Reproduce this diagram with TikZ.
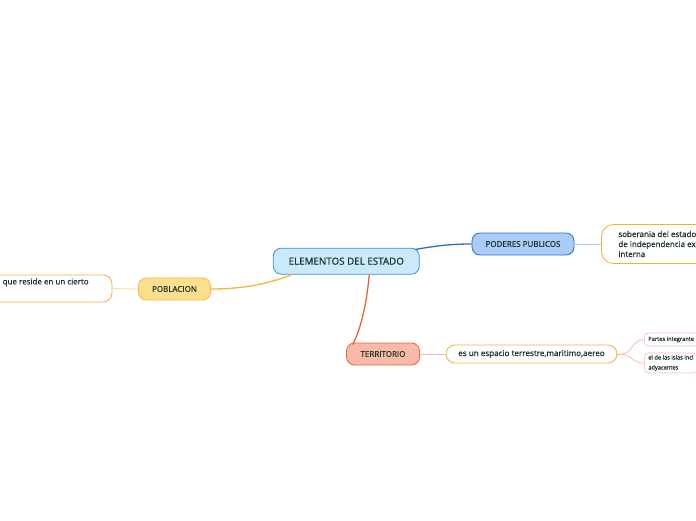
\documentclass[tikz,border=0pt]{standalone}
\usepackage{fontspec}
\setmainfont[FakeBold=0.6,AutoFakeBold=0.6]{Open Sans}
\definecolor{ink}{HTML}{1A302D}
\definecolor{estfill}{HTML}{C8EAFB}
\definecolor{estline}{HTML}{3A8FD8}
\definecolor{pobfill}{HTML}{FEDF8E}
\definecolor{pobline}{HTML}{F7B53A}
\definecolor{podfill}{HTML}{AACDF8}
\definecolor{podline}{HTML}{2C6CD0}
\definecolor{terfill}{HTML}{F9BBA7}
\definecolor{terline}{HTML}{EA6238}
\definecolor{leafor}{HTML}{F7AF35}
\definecolor{twigred}{HTML}{F9BFAE}
\begin{document}
\begin{tikzpicture}[x=1pt,y=-1pt]\tikzstyle{every node}=[font=\fontsize{8}{10}\selectfont, text=ink]
\tikzstyle{topic}=[draw, rounded corners=8pt, line width=0.8pt, minimum height=22pt, inner sep=0pt]
\tikzstyle{leaf}=[draw=leafor, fill=white, rounded corners=9pt, line width=0.8pt, inner sep=0pt]
\tikzstyle{twig}=[draw=twigred, fill=white, rounded corners=4pt, line width=0.6pt, font=\fontsize{5.7}{10}\selectfont, align=left, inner xsep=4pt, inner ysep=0pt, anchor=west]
\tikzstyle{branch}=[line width=1.3pt]
\useasboundingbox (0,0) rectangle (696,520);
\clip (0,0) rectangle (696,520);
%%%%%%%%%%%%%
\node[topic, draw=estline, fill=estfill, minimum width=146pt, minimum height=26pt, font=\fontsize{9.8}{12}\selectfont] (estado) at (346.3,261.2) {ELEMENTOS DEL ESTADO};
\node[topic, draw=pobline, fill=pobfill, minimum width=72pt] (poblacion) at (174.5,289) {POBLACION};
\node[topic, draw=podline, fill=podfill, minimum width=102pt] (poderes) at (523,244) {PODERES PUBLICOS};
\node[topic, draw=terline, fill=terfill, minimum width=73pt] (territorio) at (383,354) {TERRITORIO};
%%%%%%%%%%%%%
\node[leaf, minimum width=127pt, minimum height=27pt] (reside) at (48.5,288.5) {};
\node[anchor=west, inner sep=0pt] (residetxt) at (2.5,282.3) {que reside en un cierto};
\node[leaf, anchor=west, rounded corners=12pt, minimum height=39pt, align=left, inner xsep=17pt] (soberania) at (601,244) {soberania del estado\\de independencia ex\\interna};
\node[leaf, minimum width=171pt, minimum height=18pt, font=\fontsize{8.1}{10}\selectfont] (espacio) at (531.5,354) {es un espacio terrestre,maritimo,aereo};
\node[twig, minimum height=13pt] (partes) at (644,339.5) {Partes integrante};
\node[twig, minimum height=20pt] (islas) at (644,363) {el de las islas incl\\adyacentes};
%%%%%%%%%%%%%
\draw[branch, pobline] ([xshift=-54pt]estado.south) .. controls (265,285) and (240,289) .. (poblacion.east);
\draw[branch, podline] ([xshift=-4.5pt,yshift=-1.7pt]estado.north east) .. controls (440,245) and (455,244) .. (poderes.west);
\draw[branch, terline] ([xshift=23pt]estado.south) .. controls (366,310) and (359,333) .. ([xshift=6.5pt,yshift=-2pt]territorio.north west);
%%%%%%%%%%%%%
\draw[line width=0.8pt, pobfill] (poblacion.west) -- (reside.east);
\draw[line width=0.8pt, podfill] (poderes.east) -- (soberania.west);
\draw[line width=0.8pt, terfill] (territorio.east) -- (espacio.west);
\draw[line width=0.8pt, leafor] (espacio.east) -- ++(3,0) coordinate (fork);
\draw[line width=0.8pt, twigred] (fork) .. controls (632,355) and (632,339.5) .. (partes.west);
\draw[line width=0.8pt, twigred] (fork) .. controls (632,355) and (632,363) .. (islas.west);
\end{tikzpicture}
\end{document}
